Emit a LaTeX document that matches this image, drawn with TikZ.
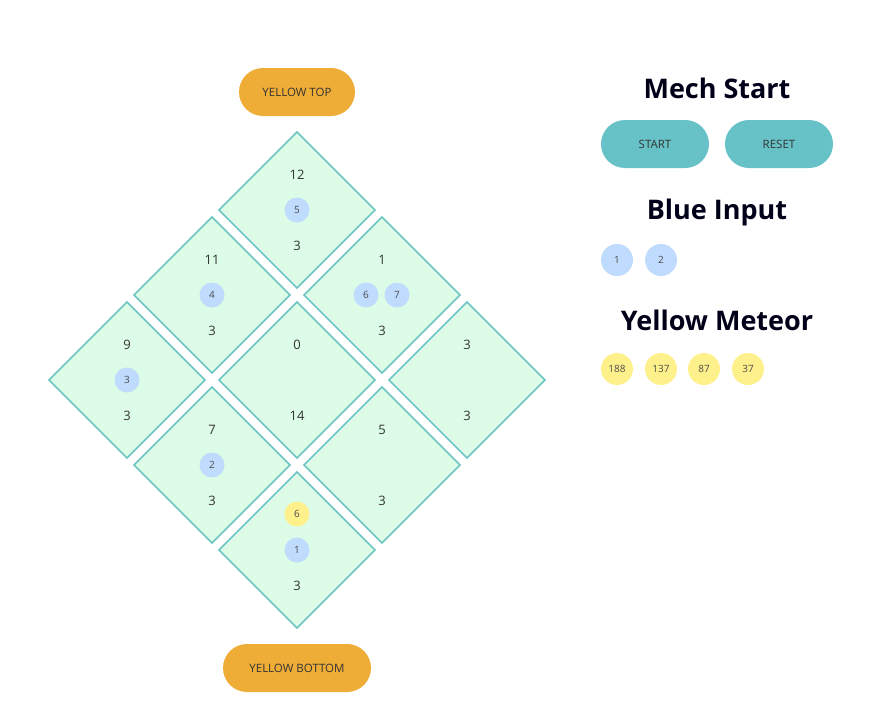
\documentclass[tikz,border=0pt]{standalone}
\usepackage{fontspec}
\setmainfont{Open Sans}
\begin{document}
\begin{tikzpicture}[x=1pt,y=-1pt,
 dia/.style={draw=teal1,fill=green1,line width=1.6pt},
 num/.style={font=\fontsize{13}{13}\selectfont,text=black!80},
 bc/.style={circle,fill=blue1,minimum size=25pt,inner sep=0pt,font=\fontsize{10}{10}\selectfont,text=black!70},
 yc/.style={circle,fill=yellow1,minimum size=32pt,inner sep=0pt,font=\fontsize{10}{10}\selectfont,text=black!70},
 ybc/.style={circle,fill=yellow1,minimum size=25pt,inner sep=0pt,font=\fontsize{10}{10}\selectfont,text=black!70},
 pill/.style={rounded corners=24pt,minimum height=48pt,inner sep=0pt,font=\fontsize{11.5}{11.5}\selectfont,text=black!80},
 head/.style={font=\fontsize{27}{27}\selectfont\bfseries,text=black!90!blue}]
\definecolor{teal1}{HTML}{6CC5C2}
\definecolor{green1}{HTML}{DCFCE7}
\definecolor{blue1}{HTML}{BFDBFE}
\definecolor{yellow1}{HTML}{FEF08A}
\definecolor{orange1}{HTML}{EEAD37}
\definecolor{tealb}{HTML}{66C2C6}
\useasboundingbox (0,0) rectangle (869,725);
\foreach \n/\cx/\cy in {a/297/210,b/212/295,c/382/295,d/127/380,e/297/380,f/467/380,g/212/465,h/382/465,i/297/550}{
 \draw[dia] (\cx,\cy-78) -- (\cx+78,\cy) -- (\cx,\cy+78) -- (\cx-78,\cy) -- cycle;
}
% top diamond
\node[num] (a1) at (297,175) {12}; \node[bc] (a2) at (297,210) {5}; \node[num] (a3) at (297,246) {3};
\node[num] (b1) at (212,260) {11}; \node[bc] (b2) at (212,295) {4}; \node[num] (b3) at (212,331) {3};
\node[num] (c1) at (382,260) {1}; \node[bc] (c2) at (366,295) {6}; \node[bc] (c4) at (397,295) {7}; \node[num] (c3) at (382,331) {3};
\node[num] (d1) at (127,345) {9}; \node[bc] (d2) at (127,380) {3}; \node[num] (d3) at (127,416) {3};
\node[num] (e1) at (297,345) {0}; \node[num] (e3) at (297,416) {14};
\node[num] (f1) at (467,345) {3}; \node[num] (f3) at (467,416) {3};
\node[num] (g1) at (212,430) {7}; \node[bc] (g2) at (212,465) {2}; \node[num] (g3) at (212,501) {3};
\node[num] (h1) at (382,430) {5}; \node[num] (h3) at (382,501) {3};
\node[ybc] (i0) at (297,514) {6}; \node[bc] (i2) at (297,550) {1}; \node[num] (i3) at (297,586) {3};
% pills
\node[pill,fill=orange1,minimum width=116pt] (yt) at (297,92) {YELLOW TOP};
\node[pill,fill=orange1,minimum width=148pt] (yb) at (297,668) {YELLOW BOTTOM};
\node[pill,fill=tealb,minimum width=108pt] (st) at (655,144) {START};
\node[pill,fill=tealb,minimum width=108pt] (rs) at (779,144) {RESET};
% headings
\node[head] (h1t) at (717,88) {Mech Start};
\node[head] (h2t) at (717,212) {Blue Input};
\node[head] (h3t) at (717,320) {Yellow Meteor};
\node[yc,fill=blue1] (bi1) at (617,260) {1};
\node[yc,fill=blue1] (bi2) at (661,260) {2};
\node[yc] (ym1) at (617,369) {188};
\node[yc] (ym2) at (661,369) {137};
\node[yc] (ym3) at (704,369) {87};
\node[yc] (ym4) at (748,369) {37};
\end{tikzpicture}
\end{document}
